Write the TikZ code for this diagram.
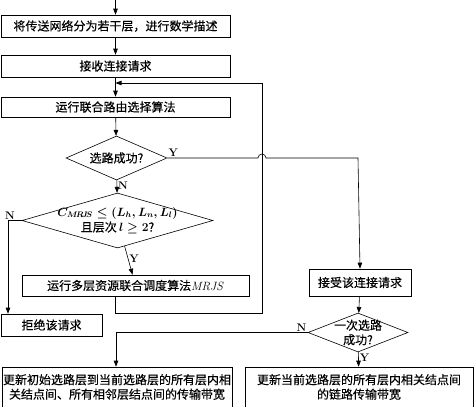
\documentclass[tikz,border=0pt]{standalone}
\usepackage{fontspec}
\newfontfamily\cjk[FakeBold=0.3]{Noto Sans CJK SC}
\usetikzlibrary{shapes.geometric,arrows.meta,calc}
\begin{document}
\begin{tikzpicture}[x=1pt,y=-1pt,line width=0.6pt,
  txt/.style={font=\cjk\fontsize{12}{14.5}\selectfont,align=center},
  mtxt/.style={font=\cjk\fontsize{12}{14.5}\selectfont\boldmath,align=center},
  box/.style={txt,draw,rectangle,inner sep=0pt},
  dia/.style={draw,diamond,inner sep=0pt},
  arr/.style={-{Triangle[length=6pt,width=4.5pt]}},
  lab/.style={font=\bfseries\fontsize{11}{12}\selectfont,inner sep=1pt}]
\useasboundingbox (0,0) rectangle (474,407);

\coordinate (top) at (115.5,0);
\node[box,minimum width=229pt,minimum height=22pt] (b1) at (115.5,26) {将传送网络分为若干层，进行数学描述};
\node[box,minimum width=229pt,minimum height=22pt] (b2) at (115.5,66) {接收连接请求};
\node[box,minimum width=229pt,minimum height=20pt] (b3) at (115.5,107) {运行联合路由选择算法};
\node[dia,minimum width=101pt,minimum height=44pt,label={[txt]center:选路成功?}] (d1) at (116.5,158) {};
\node[dia,minimum width=191pt,minimum height=55pt,
  label={[mtxt]center:{$C_{M\!R\!J\!S}\le(L_h,L_n,L_l)$\\[1pt]且层次$\,l\ge 2$?}}] (d2) at (117.5,220.5) {};
\node[box,minimum width=227pt,minimum height=21pt] (mrjs) at (135.5,285.5) {运行多层资源联合调度算法\textnormal{\itshape MRJS}};
\node[box,minimum width=101pt,minimum height=22pt] (rej) at (51.5,325) {拒绝该请求};
\node[box,minimum width=102pt,minimum height=27pt] (acc) at (360,282.5) {接受该连接请求};
\node[dia,minimum width=100pt,minimum height=39pt,label={[txt]center:{一次选路\\成功?}}] (d3) at (358,332.5) {};
\node[box,minimum width=230pt,minimum height=40pt] (bl) at (117,387) {更新初始选路层到当前选路层的所有层内相\\关结点间、所有相邻层结点间的传输带宽};
\node[box,minimum width=228pt,minimum height=40pt] (br) at (359,387) {更新当前选路层的所有层内相关结点间\\的链路传输带宽};

\coordinate (jl) at (258,158);
\coordinate (yr) at (358,158);
\coordinate (nl) at (8,220.5);
\coordinate (f1) at (115.5,313);
\coordinate (f2) at (262,313);
\coordinate (f3) at (262,83);
\coordinate (f4) at (115.5,83);
\coordinate (n3) at (116,332.5);

\draw[arr] (top) -- (b1);
\draw[arr] (b1) -- (b2);
\draw[arr] (b2) -- (b3);
\draw[arr] (b3) -- (d1);
\draw[arr] (d1) -- node[lab,right,pos=0.45]{N} (d2);
\draw[arr] (d1.east) node[lab,above right]{Y} -- (jl) arc[start angle=180,end angle=360,radius=4] -- (yr) -- (acc.north);
\draw[arr] (d2) -- node[lab,right,pos=0.45]{Y} (mrjs);
\draw[arr] (d2.west) -- (nl) node[lab,above,xshift=2pt]{N} -- (rej.north -| nl);
\draw (mrjs.south -| f1) -- (f1) -- (f2) -- (f3);
\draw[arr] (f3) -- (f4);
\draw[arr] (acc) -- (d3);
\draw[arr] (d3.west) node[lab,above left]{N} -- (n3) -- (bl.north -| n3);
\draw[arr] (d3) -- node[lab,right,pos=0.4]{Y} (br);
\end{tikzpicture}
\end{document}
